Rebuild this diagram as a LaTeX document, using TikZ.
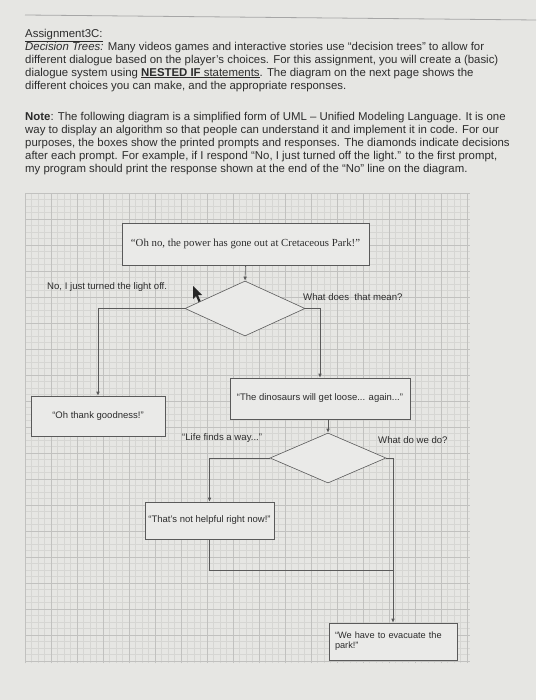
\documentclass[tikz,border=0pt]{standalone}
\usepackage{fontspec}
\setmainfont{Liberation Sans}
\newfontfamily\tnr{Liberation Serif}
\usetikzlibrary{shapes.geometric,arrows.meta}
\definecolor{paper}{HTML}{E6E6E3}
\definecolor{ink}{HTML}{2C2C2C}
\definecolor{lineg}{HTML}{5A5A5A}
\definecolor{boxfill}{HTML}{EAEAE8}
\colorlet{gridminor}{paper!93!black}
\colorlet{gridmajor}{paper!84!black}
\tikzset{
  para/.style={anchor=north west, align=left, inner sep=0pt, text=ink, font=\fontsize{11.4}{12.9}\selectfont},
  msgbox/.style={draw=lineg, fill=boxfill, line width=0.6pt, rectangle, inner sep=0pt, text=ink, font=\fontsize{9.5}{10}\selectfont},
  decis/.style={draw=lineg, fill=boxfill, line width=0.6pt, diamond, inner sep=0pt},
  lbl/.style={anchor=west, inner sep=0pt, text=ink, font=\fontsize{9.6}{10}\selectfont},
  conn/.style={draw=lineg, line width=0.6pt},
  arr/.style={conn, -{Latex[length=4pt,width=3.5pt]}},
}
\begin{document}
\begin{tikzpicture}[x=1pt,y=-1pt]
\useasboundingbox (0,0) rectangle (536,700);
\fill[paper] (0,0) rectangle (536,700);
% top rule
\draw[gray!70, line width=0.8pt] (25,15) -- (536,20);
% grid
\begin{scope}[shift={(25,193)}]
\draw[gridminor, line width=0.3pt, step=6.5pt] (0,0) grid (445,470);
\draw[gridmajor, line width=0.4pt, step=26pt] (0,0) grid (445,470);
\end{scope}
% text
\node[para] (p1) at (25,29) {\underline{Assignment3C:}\\
\textit{Decision Trees:} Many videos games and interactive stories use “decision trees” to allow for\\
different dialogue based on the player’s choices. For this assignment, you will create a (basic)\\
dialogue system using \underline{\textbf{NESTED IF} statements}. The diagram on the next page shows the\\
different choices you can make, and the appropriate responses.};
\node[para] (p2) at (25,112) {\textbf{Note}: The following diagram is a simplified form of UML – Unified Modeling Language. It is one\\
way to display an algorithm so that people can understand it and implement it in code. For our\\
purposes, the boxes show the printed prompts and responses. The diamonds indicate decisions\\
after each prompt. For example, if I respond “No, I just turned off the light.” to the first prompt,\\
my program should print the response shown at the end of the “No” line on the diagram.};
% boxes
\node[msgbox, minimum width=247pt, minimum height=42pt, font=\tnr\fontsize{10.8}{12}\selectfont] (b1) at (245.5,244) {“Oh no, the power has gone out at Cretaceous Park!”};
\node[decis, minimum width=120pt, minimum height=55pt] (d1) at (245,308.5) {};
\node[msgbox, minimum width=134pt, minimum height=40pt] (b2) at (98,416) {“Oh thank goodness!”};
\node[msgbox, minimum width=180pt, minimum height=41pt] (b3) at (320,398.5) {“The dinosaurs will get loose... again...”};
\node[decis, minimum width=116pt, minimum height=50pt] (d2) at (328,458) {};
\node[msgbox, minimum width=129pt, minimum height=37pt] (b4) at (209.5,520.5) {“That’s not helpful right now!”};
\node[msgbox, minimum width=128pt, minimum height=37pt, align=left, text width=116pt, font=\fontsize{9.2}{10}\selectfont] (b5) at (393,641.5) {“We have to evacuate the\\park!”};
% labels
\node[lbl] (l1) at (47,287) {No, I just turned the light off.};
\node[lbl] (l2) at (303,297) {What does\ \ that mean?};
\node[lbl] (l3) at (182,438) {“Life finds a way...”};
\node[lbl] (l4) at (378,440) {What do we do?};
% connectors
\draw[arr] (b1.south) -- (d1.north);
\draw[arr] (d1.west) -| (b2.north);
\draw[arr] (d1.east) -| (b3.north);
\draw[arr] (b3.south -| d2.north) -- (d2.north);
\draw[arr] (d2.west) -| (b4.north);
\draw[arr] (d2.east) -| (b5.north);
\coordinate (j) at (393,570);
\draw[conn] (b4.south) |- (j);
% mouse pointer
\fill[black!85] (193,286) -- (193,299) -- (196,296) -- (198.5,302) -- (200.5,301) -- (198,295) -- (202,295) -- cycle;
\end{tikzpicture}
\end{document}
